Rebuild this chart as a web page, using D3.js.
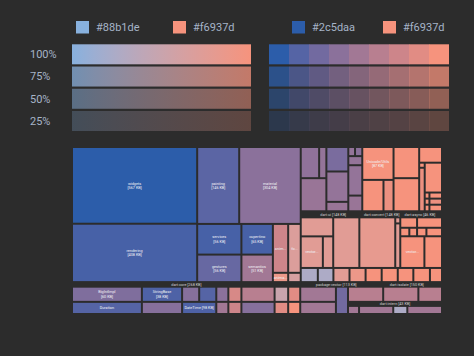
<!DOCTYPE html>
<html>
<head>
<meta charset="utf-8">
<script src="https://cdn.jsdelivr.net/npm/d3@7/dist/d3.min.js"></script>
<style>
  html, body { margin: 0; padding: 0; background: #2c2c2c; }
  svg { display: block; }
  text { font-family: Roboto, "Noto Sans", "DejaVu Sans", sans-serif; }
</style>
</head>
<body>
<svg id="chart" width="474" height="356"></svg>
<script>
// ---------------- data ----------------
const legendColors = ["#88b1de", "#f6937d", "#2c5daa", "#f6937d"];
const opacityLabels = ["100%", "75%", "50%", "25%"];
const opacityValues = [1, 0.75, 0.5, 0.25];
const rampSteps = [0, 1, 2, 3, 4, 5, 6, 7, 8];

// treemap leaves: [label, size, tone]  (tone: q = dark ramp step, l = light ramp step)
// nested arrays are sub-blocks, alternating split direction
const coreCells = [
  [["widgets\n[567 KB]", 9437.1, "q0"], ["rendering\n[408 KB]", 7183.65, "q0.6"]],
  [
    [["painting\n[146 KB]", 3176.8, "q1.2"], ["material\n[304 KB]", 4651.2, "q3"]],
    [
      [["services\n[56 KB]", 1333.2, "q0.6"], ["gestures\n[56 KB]", 1196.8, "q1.6"]],
      [["cupertino\n[65 KB]", 948.39, "q0.6"], ["semantics\n[51 KB]", 851.36, "q4"]],
      [["anim...", 734.16, "q6"], ["anima...", 139.84, "l7"]],
      [["fo...", 603.75, "l5.5"], ["", 115, "l5"]]
    ]
  ]
];
const uiCells = [
  [[["", 563.64, "q3.2"], ["", 221.76, "q3.4"]], ["", 833.85, "q3.6"]],
  [["", 527.56, "q2.3"], ["", 654, "q3.4"], ["", 202.74, "q3.6"]],
  [[["", 60.3, "q3.4"], ["", 64.8, "q3"]], ["", 125.1, "q3.4"], ["", 417, "q3.4"], ["", 215.45, "q3.6"]]
];
const convertCells = [
  [["Unicode/Utils\n[87 KB]", 1010.75, "q8"], [["", 654.1, "q8"], ["", 310, "q7.5"]]],
  [["", 785.4, "q8"], ["", 833.85, "q8"]]
];
const asyncCells = [
  ["", 351.85, "q8"],
  [
    [["", 27.5, "q8"], ["", 236.5, "q7.5"]],
    [["", 507.4, "q8"], [["", 28.2, "q8"], ["", 75, "q8"]], [["", 28.2, "q8"], ["", 75, "q7.5"]], [["", 30.55, "q8"], ["", 81.25, "q8"]]]
  ]
];
const vectorCells = [
  [["", 607.24, "l6"], [["vector...", 686.4, "l6"], ["", 321.36, "l6"]]],
  ["", 1300, "l6"],
  ["", 1785, "l6.5"],
  [["", 30, "l6"], ["", 220, "l6"]],
  [
    [["", 172.01, "q8"], ["", 255.44, "q8"]],
    [["", 75.6, "q8"], ["", 64.68, "q8"], ["", 78.12, "q8"], ["", 130.2, "q8"]],
    [["vector...", 751.2, "q8"], ["", 547.75, "q8"]]
  ]
];
const stripCells = [
  ["", 238, "l2"], ["", 217, "l2"], ["", 224, "l6"], ["", 224, "l7"], ["", 224, "q8"],
  ["", 224, "q8"], ["", 217, "q8"], ["", 231, "q8"], ["", 168, "q8"]
];
const bottomCells = [
  [["BigIntImpl\n[60 KB]", 1042.5, "q2.5"], ["Duration", 834, "q1"]],
  [["StringBase\n[38 KB]", 600, "q0.8"], ["", 480, "q2.8"]],
  [[["", 255, "q2.8"], ["", 255, "q1"]], ["DateTime [98 KB]", 408, "q0.8"]],
  [["", 180, "q3"], ["", 144, "q4"]],
  [["", 195, "q6.5"], ["", 156, "q6"]],
  [["", 495, "q5"], ["", 396, "q2.8"]],
  [["", 202.5, "l4"], ["", 162, "q7"]],
  [["", 180, "q7"], ["", 144, "q8"]],
  [["", 532.5, "q4"], ["", 426, "q4"]],
  ["", 324, "q2"],
  [
    [["", 525, "q5"], ["", 525, "q5"], ["", 352.5, "q5"]],
    ["dart:intern [43 KB]", 374, null],
    [["", 88, "q4"], ["", 272, "q4"], ["", 112, "l2"], ["", 276, "q4"]]
  ]
];
const row1Labels = [["dart:ui [148 KB]", 387], ["dart:convert [148 KB]", 192], ["dart:async [46 KB]", 264]];
const topLabels = [["dart:core [268 KB]", 1023.75], ["package:vector [113 KB]", 317.25], ["dart:isolate [150 KB]", 315]];

// ---------------- scales ----------------
const [lightA, lightB, darkA, darkB] = legendColors;
const lightInterp = d3.interpolateLab(lightA, lightB);
const darkInterp = d3.interpolateLab(darkA, darkB);
const stepScale = d3.scaleLinear().domain([0, 8]).range([0, 1]);
function toneColor(t) {
  const k = parseFloat(t.slice(1));
  return t[0] === "q" ? darkInterp(stepScale(k)) : lightInterp(stepScale(k));
}

const svg = d3.select("#chart");
const textColor = "#a6b4c8";

const yRow = d3.scaleBand().domain(opacityLabels).range([44.3, 131]).paddingInner(0.1);
const xLeft = d3.scaleLinear().domain([0, 1]).range([72, 251]);
const xRight = d3.scaleBand().domain(rampSteps).range([269, 449]);

// legend
const legendX = [xLeft(0) + 4, xLeft(0) + 101, xRight.range()[0] + 23, xRight.range()[0] + 114];
const lg = svg.append("g");
lg.selectAll("rect").data(legendColors).join("rect")
  .attr("x", (d, i) => legendX[i]).attr("y", 21)
  .attr("width", 13).attr("height", 12.5)
  .attr("fill", d => d);
lg.selectAll("text").data(legendColors).join("text")
  .attr("x", (d, i) => legendX[i] + 20).attr("y", 31.2)
  .attr("font-size", 11).attr("fill", textColor)
  .text(d => d);

// row labels
svg.append("g").selectAll("text").data(opacityLabels).join("text")
  .attr("x", 30).attr("y", d => yRow(d) + yRow.bandwidth() / 2 + 3.9)
  .attr("font-size", 11).attr("fill", textColor)
  .text(d => d);

// left continuous ramp
const defs = svg.append("defs");
const gradStops = d3.range(0, 1.0001, 0.125);
const grad = defs.append("linearGradient").attr("id", "lightRamp")
  .attr("x1", 0).attr("x2", 1).attr("y1", 0).attr("y2", 0);
grad.selectAll("stop").data(gradStops).join("stop")
  .attr("offset", d => d).attr("stop-color", d => lightInterp(d));
svg.append("g").selectAll("rect").data(opacityLabels).join("rect")
  .attr("x", xLeft(0)).attr("width", xLeft(1) - xLeft(0))
  .attr("y", d => yRow(d)).attr("height", yRow.bandwidth())
  .attr("fill", "url(#lightRamp)")
  .attr("fill-opacity", (d, i) => opacityValues[i]);

// right stepped ramp
const rg = svg.append("g");
opacityLabels.forEach((lab, i) => {
  rg.append("g").selectAll("rect").data(rampSteps).join("rect")
    .attr("x", d => xRight(d)).attr("width", d => xRight.bandwidth() + (d < 8 ? 0.4 : 0))
    .attr("y", yRow(lab)).attr("height", yRow.bandwidth())
    .attr("fill", d => darkInterp(stepScale(d)))
    .attr("fill-opacity", opacityValues[i]);
});

// ---------------- treemap ----------------
function build(items, dir) {
  return {
    dir,
    children: items.map(it => typeof it[0] === "string"
      ? { label: it[0], size: it[1], tone: it[2] }
      : build(it, dir === "x" ? "y" : "x"))
  };
}
const labelLeaves = arr => arr.map(d => [d[0], d[1], null]);

const tree = { dir: "y", children: [
  { dir: "y", children: [
    { dir: "x", children: [
      build(coreCells, "x"),
      { dir: "y", children: [
        { dir: "y", children: [
          { dir: "x", children: [build(uiCells, "x"), build(convertCells, "x"), build(asyncCells, "y")] },
          build(labelLeaves(row1Labels), "x")
        ]},
        { dir: "y", children: [build(vectorCells, "x"), build(stripCells, "x")] }
      ]}
    ]},
    build(labelLeaves(topLabels), "x")
  ]},
  build(bottomCells, "x")
]};

const tile = (node, x0, y0, x1, y1) =>
  (node.data.dir === "x" ? d3.treemapDice : d3.treemapSlice)(node, x0, y0, x1, y1);

const root = d3.hierarchy(tree).sum(d => d.children ? 0 : d.size);
d3.treemap().tile(tile).size([368, 165]).paddingInner(2)(root);

const tg = svg.append("g").attr("transform", "translate(73,148)");
const leaves = root.leaves();
tg.selectAll("rect").data(leaves.filter(d => d.data.tone)).join("rect")
  .attr("x", d => d.x0).attr("y", d => d.y0)
  .attr("width", d => Math.max(0, d.x1 - d.x0))
  .attr("height", d => Math.max(0, d.y1 - d.y0))
  .attr("fill", d => toneColor(d.data.tone));

const fs = 3.8, lh = 4.2;
tg.selectAll("text").data(leaves.filter(d => d.data.label)).join("text")
  .attr("text-anchor", "middle")
  .attr("font-size", fs)
  .attr("fill", d => d.data.tone ? "#f2f2f6" : "#d2d2d2")
  .each(function (d) {
    const lines = d.data.label.split("\n");
    const cx = (d.x0 + d.x1) / 2, cy = (d.y0 + d.y1) / 2;
    const sel = d3.select(this);
    lines.forEach((l, i) => {
      sel.append("tspan")
        .attr("x", cx)
        .attr("y", cy - (lines.length - 1) * lh / 2 + i * lh + fs * 0.35)
        .text(l);
    });
  });
</script>
</body>
</html>
